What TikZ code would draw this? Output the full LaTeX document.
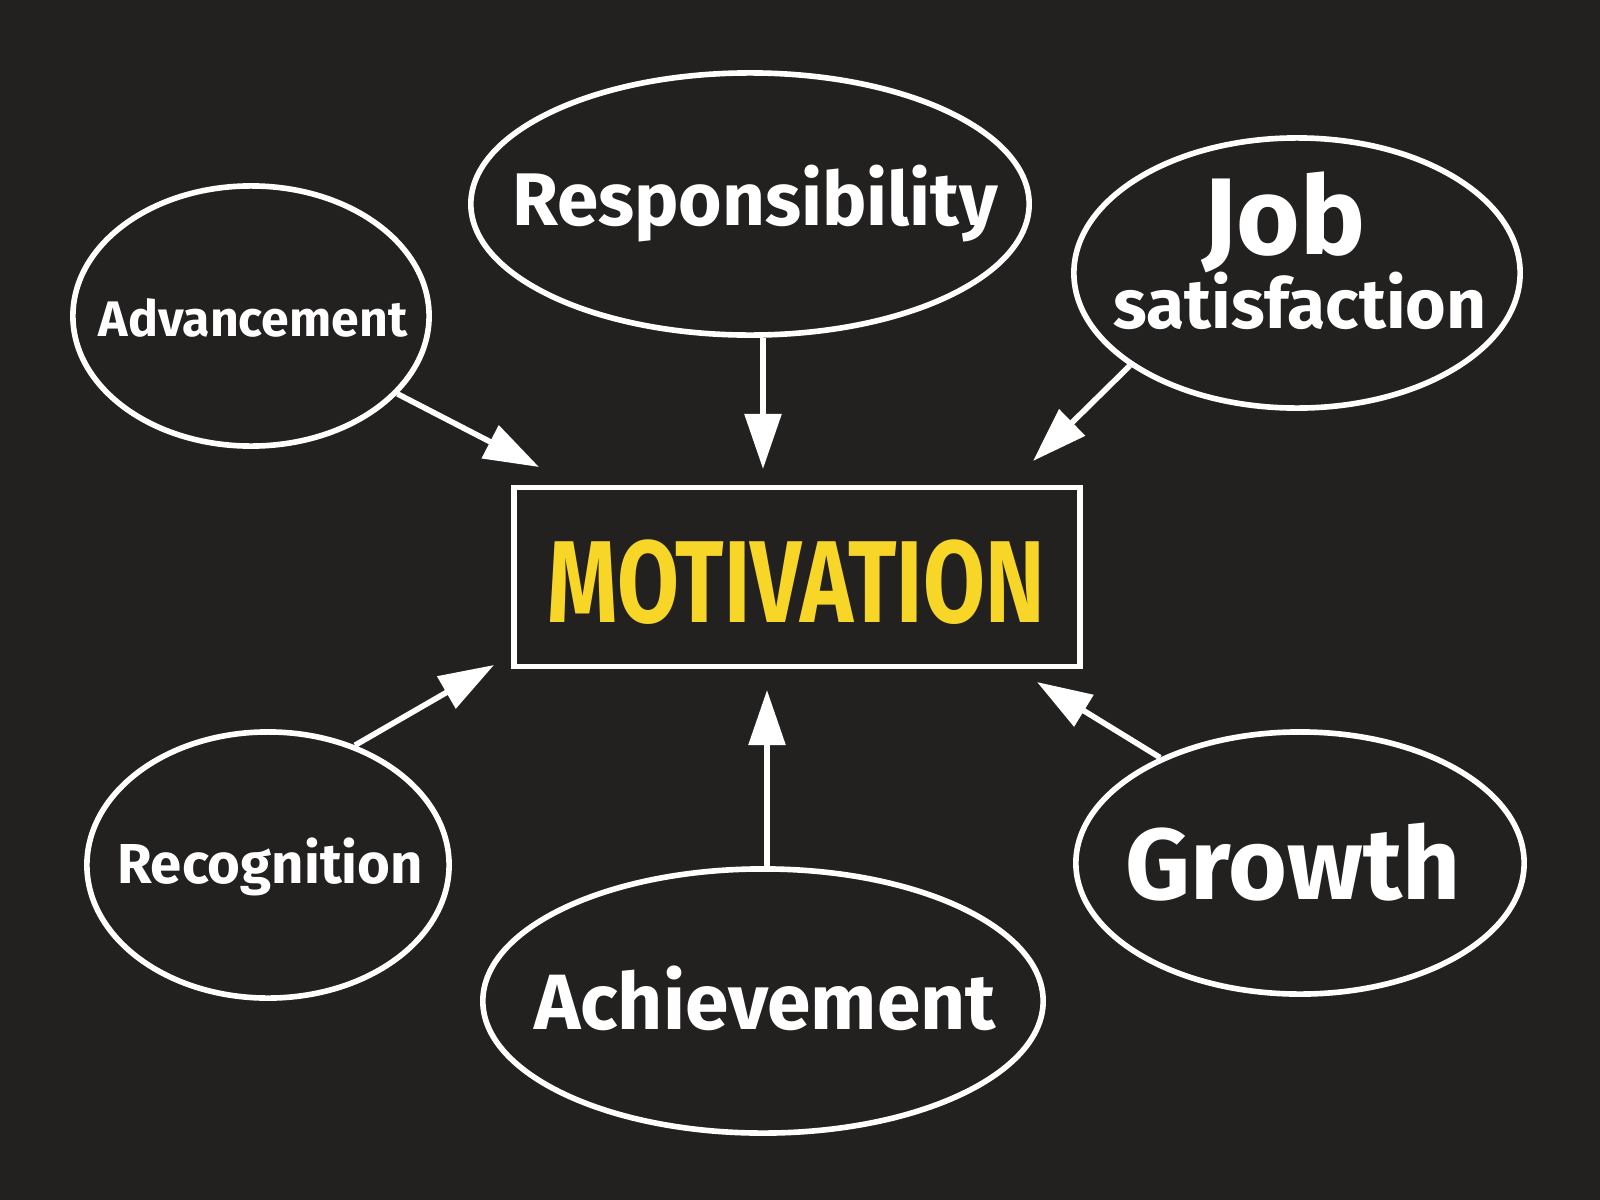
\documentclass[tikz,border=0pt]{standalone}
\usepackage{fontspec}
\setmainfont{Fira Sans}
\usetikzlibrary{arrows.meta,positioning,shapes.geometric}
\definecolor{board}{RGB}{35,32,32}
\definecolor{chalkyellow}{RGB}{247,214,40}

\begin{document}
\begin{tikzpicture}[x=0.01cm,y=-0.01cm,line width=1.6pt]
		\tikzstyle{idea}=[draw=white,ellipse,inner sep=0pt]
		\tikzstyle{word}=[text=white]
		\tikzstyle{link}=[white,-{Triangle[length=0.55cm,width=0.36cm]}]
		\fill[board] (0,0) rectangle (1600,1200);
		\useasboundingbox (0,0) rectangle (1600,1200);
		% centre box
		\node[draw=white,minimum width=5.66cm,minimum height=1.79cm] (mot) at (797,577) {};
		\node[text=chalkyellow,font=\bfseries\fontsize{25.5}{28}\selectfont] (motlbl) at (796,582) {\scalebox{1}[1.3]{MOTIVATION}};
		% ideas round it
		\node[idea,minimum width=5.58cm,minimum height=2.62cm] (rsp) at (750,204) {};
		\node[idea,minimum width=3.56cm,minimum height=2.60cm] (adv) at (251,316) {};
		\node[idea,minimum width=4.46cm,minimum height=2.70cm] (job) at (1297,273) {};
		\node[idea,minimum width=3.62cm,minimum height=2.66cm] (rec) at (268,865) {};
		\node[idea,minimum width=5.60cm,minimum height=2.64cm] (ach) at (763,1001) {};
		\node[idea,minimum width=4.48cm,minimum height=2.62cm] (grw) at (1300,863) {};
		\node[word,font=\bfseries\fontsize{21.2}{24}\selectfont] (rsplbl) at (755,204) {Responsibility};
		\node[word,font=\bfseries\fontsize{14.2}{17}\selectfont] (advlbl) at (253,318) {Advancement};
		\node[word,font=\bfseries\fontsize{31}{34}\selectfont] (joblbl) at (1284,222) {Job};
		\node[word,font=\bfseries\fontsize{19.8}{23}\selectfont] (satlbl) at (1300,301) {satisfaction};
		\node[word,font=\bfseries\fontsize{16}{19}\selectfont] (reclbl) at (270,867) {Recognition};
		\node[word,font=\bfseries\fontsize{22.3}{25}\selectfont] (achlbl) at (765,998) {Achievement};
		\node[word,font=\bfseries\fontsize{28.7}{32}\selectfont] (grwlbl) at (1293,862) {Growth};
		% arrow tips
		\coordinate (tipA) at (539,467);
		\coordinate (tipR) at (763,469);
		\coordinate (tipJ) at (1033,461);
		\coordinate (tipC) at (494,665);
		\coordinate (tipV) at (767,690);
		\coordinate (tipG) at (1037,682);
		\draw[link] (adv.-28.5) -- (tipA);
		\draw[link] (tipR |- rsp.south) -- (tipR);
		\draw[link] (job.-151) -- (tipJ);
		\draw[link] (rec.54) -- (tipC);
		\draw[link] (tipV |- ach.north) -- (tipV);
		\draw[link] (grw.143) -- (tipG);
	\end{tikzpicture}
\end{document}
